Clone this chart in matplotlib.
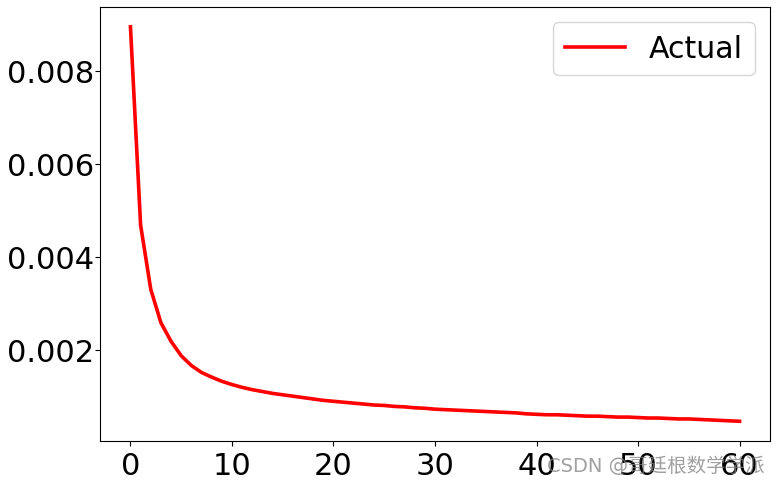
import numpy as np
from matplotlib import pyplot as plt

plt.rcParams['font.family'] = ['DejaVu Sans', 'Noto Sans CJK SC']

epochs = list(range(61))
actual = [0.00895, 0.00468, 0.00330, 0.00258, 0.00218, 0.00187, 0.00166, 0.00151,
          0.00141, 0.00132, 0.00125, 0.00119, 0.00114, 0.00110, 0.00106, 0.00103,
          0.00100, 0.00097, 0.00094, 0.00091, 0.00089, 0.00087, 0.00085, 0.00083,
          0.00081, 0.00080, 0.00078, 0.00077, 0.00075, 0.00074, 0.00072, 0.00071,
          0.00070, 0.00069, 0.00068, 0.00067, 0.00066, 0.00065, 0.00064, 0.00062,
          0.00061, 0.00060, 0.00060, 0.00059, 0.00058, 0.00057, 0.00057, 0.00056,
          0.00055, 0.00055, 0.00054, 0.00053, 0.00053, 0.00052, 0.00051, 0.00051,
          0.00050, 0.00049, 0.00048, 0.00047, 0.00046]

fig = plt.figure(figsize=(7.77, 4.85), dpi=100)
ax = fig.add_axes([100/777, 1 - 442/485, 670/777, 434/485])
ax.plot(epochs, actual, color='red', lw=2.6, label='Actual')
ax.tick_params(labelsize=22)
ax.tick_params(axis='y', pad=0.8)
ax.legend(fontsize=21.6, loc='upper right')

fig.text(656/777, 1 - 466/485, 'CSDN @哥廷根数学学派', fontsize=14, color='gray',
         alpha=0.75, ha='center', va='center',
         family=['DejaVu Sans', 'Noto Sans CJK SC'])

plt.savefig('out.png', dpi=100)
